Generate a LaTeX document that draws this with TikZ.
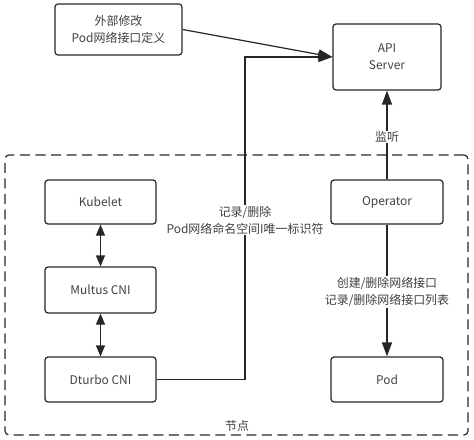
\documentclass[tikz,border=0pt]{standalone}
\usepackage{fontspec}
\setmainfont{Noto Sans CJK SC}
\usetikzlibrary{arrows.meta}
\begin{document}
\begin{tikzpicture}[x=1bp,y=-1bp,
  every node/.style={font=\fontsize{12}{17}\selectfont, text=black!75},
  box/.style={draw=black!85, line width=1.2bp, rounded corners=3bp, align=center, inner sep=0pt},
  arr/.style={draw=black!85, line width=1.2bp, -{Triangle[length=14bp,width=10bp]}},
  darr/.style={draw=black!85, line width=1.2bp, {Triangle[length=11bp,width=9bp]}-{Triangle[length=11bp,width=9bp]}},
  lbl/.style={fill=white, align=center, inner sep=1bp}]
\useasboundingbox (0,0) rectangle (474,440);
\node[draw=black!85, line width=1.2bp, dash pattern=on 10bp off 5.5bp, rounded corners=4bp,
      minimum width=463bp, minimum height=280bp, inner sep=0pt] (host) at (236.5,295) {};
\node[box, minimum width=127bp, minimum height=51bp] (ext) at (118.5,29.5) {外部修改\\Pod网络接口定义};
\node[box, minimum width=108bp, minimum height=66bp] (api) at (387,57) {API\\Server};
\node[box, minimum width=111bp, minimum height=44bp] (kub) at (100.5,202) {Kubelet};
\node[box, minimum width=111bp, minimum height=46bp] (mul) at (100.5,290) {Multus CNI};
\node[box, minimum width=111bp, minimum height=45bp] (dtb) at (100.5,379.5) {Dturbo CNI};
\node[box, minimum width=112bp, minimum height=44bp] (op) at (387,202) {Operator};
\node[box, minimum width=112bp, minimum height=45bp] (pod) at (387,379.5) {Pod};
\coordinate (bend) at (245,57);
\draw[arr] (ext.east) -- (api.west);
\draw[arr] (dtb.east) -| (bend) -- (api.west);
\draw[arr] (op.north) -- (api.south);
\draw[arr] (op.south) -- (pod.north);
\draw[darr] (kub.south) -- (mul.north);
\draw[darr] (mul.south) -- (dtb.north);
\node[lbl] (l1) at (245,220) {记录/删除\\Pod网络命名空间I唯一标识符};
\node[lbl] (l2) at (387,137) {监听};
\node[lbl] (l3) at (387,292) {创建/删除网络接口\\记录/删除网络接口列表};
\node[inner sep=0pt] (l4) at (237,426) {节点};
\end{tikzpicture}
\end{document}
